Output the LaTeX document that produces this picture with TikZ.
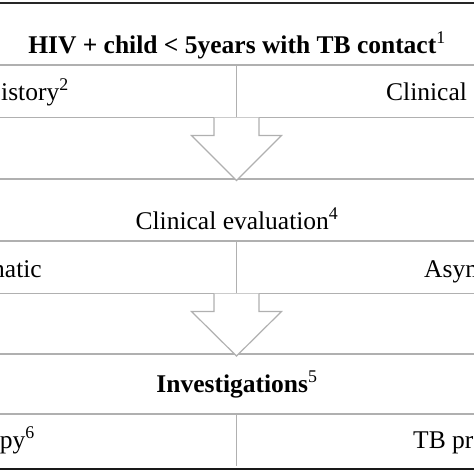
\documentclass[tikz,border=0pt]{standalone}
\usepackage{fontspec}
\setmainfont{Liberation Serif}
\begin{document}
\begin{tikzpicture}[x=1pt,y=-1pt,
  rule/.style={draw=gray!62, line width=1.2pt},
  frame/.style={draw=black!85, line width=1.3pt},
  framebot/.style={draw=black!90, line width=2pt},
  txt/.style={font=\fontsize{25.5}{30}\selectfont, inner sep=0pt},
  blockarrow/.style={draw=gray!62, line width=1.2pt, line join=miter}]
\useasboundingbox (0,0) rectangle (474,474);
% frame lines
\draw[frame] (0,3) -- (474,3);
\draw[framebot] (0,469) -- (474,469);
% title
\node[txt, anchor=base] (title) at (237,53) {\bfseries HIV + child < 5years with TB contact\textsuperscript{\mdseries 1}};
\draw[rule] (0,65) -- (474,65);
% row 1
\node[txt, anchor=base west] (hist) at (1,100) {istory\textsuperscript{2}};
\node[txt, anchor=base west] (clin) at (386,100) {Clinical};
\draw[rule] (236.5,65) -- (236.5,117.5);
\draw[rule] (0,117.5) -- (474,117.5);
% arrow 1
\coordinate (a1) at (236.5,117.5);
\draw[rule] (0,179) -- (474,179);
\fill[white] ([xshift=-22.5pt]a1) -- ++(0,18) -- ++(-22.5,0) -- ++(45,45) -- ++(45,-45) -- ++(-22.5,0) -- ++(0,-18) -- cycle;
\draw[blockarrow] ([xshift=-22.5pt]a1) -- ++(0,18) -- ++(-22.5,0) -- ++(45,45) -- ++(45,-45) -- ++(-22.5,0) -- ++(0,-18);
% clinical evaluation
\node[txt, anchor=base] (ceval) at (237,229) {Clinical evaluation\textsuperscript{4}};
\draw[rule] (0,241) -- (474,241);
% row 2
\node[txt, anchor=base east] (symp) at (42,277) {natic};
\node[txt, anchor=base west] (asym) at (424,277) {Asym};
\draw[rule] (236.5,241) -- (236.5,293.5);
\draw[rule] (0,293.5) -- (474,293.5);
% arrow 2
\coordinate (a2) at (236.5,293.5);
\draw[rule] (0,354) -- (474,354);
\fill[white] ([xshift=-22.5pt]a2) -- ++(0,18) -- ++(-22.5,0) -- ++(45,44.5) -- ++(45,-44.5) -- ++(-22.5,0) -- ++(0,-18) -- cycle;
\draw[blockarrow] ([xshift=-22.5pt]a2) -- ++(0,18) -- ++(-22.5,0) -- ++(45,44.5) -- ++(45,-44.5) -- ++(-22.5,0) -- ++(0,-18);
% investigations
\node[txt, anchor=base] (inv) at (237,392) {\bfseries Investigations\textsuperscript{\mdseries 5}};
\draw[rule] (0,414) -- (474,414);
% row 3
\node[txt, anchor=base east] (ther) at (35,448) {apy\textsuperscript{6}};
\node[txt, anchor=base west] (tbpr) at (413,448) {TB pr};
\draw[rule] (236.5,414) -- (236.5,466);
\end{tikzpicture}
\end{document}
